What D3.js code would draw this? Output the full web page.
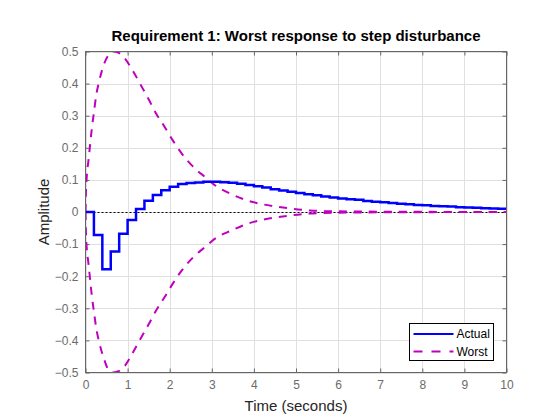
<!DOCTYPE html>
<html>
<head>
<meta charset="utf-8">
<script src="https://cdn.jsdelivr.net/npm/d3@7"></script>
<style>
  body { margin: 0; background: #fff; }
  svg { display: block; font-family: "Liberation Sans", Arial, sans-serif; }
</style>
</head>
<body>
<svg id="viz" width="560" height="420"></svg>
<script>
// step disturbance plot, MATLAB look

// Actual response: discrete stairs, Ts = 0.2 s
const actualTs = 0.2;
const actualValues = [
  0, -0.072, -0.178, -0.123, -0.068, -0.025, 0.009, 0.035, 0.053, 0.068,
  0.079, 0.087, 0.090, 0.092, 0.094, 0.094, 0.093, 0.091, 0.088, 0.084,
  0.080, 0.076, 0.071, 0.067, 0.063, 0.059, 0.055, 0.052, 0.048, 0.045,
  0.042, 0.040, 0.038, 0.034, 0.032, 0.030, 0.028, 0.026, 0.024, 0.022,
  0.021, 0.019, 0.018, 0.017, 0.015, 0.014, 0.013, 0.012, 0.011, 0.010,
  0.010
];

// Worst-case envelope (upper / lower)
const worstT = [0, 0.01, 0.03, 0.07, 0.11, 0.15, 0.2, 0.25, 0.33, 0.43, 0.57, 0.66, 0.8, 0.93,
  1.12, 1.32, 1.5, 1.68, 1.88, 2.07, 2.27, 2.55, 2.83, 3.1, 3.46, 3.82, 4.17, 4.53, 4.92,
  5.32, 5.67, 6, 7, 8, 10];
const worstUpper = [0, 0.06, 0.11, 0.16, 0.21, 0.26, 0.31, 0.36, 0.41, 0.457, 0.493, 0.5, 0.495, 0.479,
  0.441, 0.394, 0.351, 0.306, 0.265, 0.224, 0.185, 0.142, 0.11, 0.081, 0.056, 0.037, 0.025, 0.017, 0.010,
  0.005, 0.003, 0.002, 0.001, 0.0005, 0.0001];
const worstLower = [0, -0.061, -0.113, -0.16, -0.211, -0.261, -0.31, -0.358, -0.408, -0.454, -0.496, -0.5, -0.495, -0.48,
  -0.439, -0.392, -0.35, -0.306, -0.265, -0.224, -0.185, -0.142, -0.11, -0.081, -0.058, -0.038, -0.025, -0.017, -0.010,
  -0.005, -0.003, -0.002, -0.001, -0.0005, -0.0001];

const xTicks = [0, 1, 2, 3, 4, 5, 6, 7, 8, 9, 10];
const yTicks = [-0.5, -0.4, -0.3, -0.2, -0.1, 0, 0.1, 0.2, 0.3, 0.4, 0.5];
const seriesNames = ["Actual", "Worst"];

const svg = d3.select("#viz");
const box = { left: 85.5, right: 506.5, top: 51.5, bottom: 372.5 };
const axisColor = "#666";
const gridColor = "#e0e0e0";
const blue = "#0000ff";
const magenta = "#bf00bf";

const x = d3.scaleLinear().domain([0, 10]).range([box.left, box.right]);
const y = d3.scaleLinear().domain([-0.5, 0.5]).range([box.bottom, box.top]);

svg.append("defs").append("clipPath").attr("id", "clip")
  .append("rect")
  .attr("x", box.left).attr("y", box.top)
  .attr("width", box.right - box.left).attr("height", box.bottom - box.top);

// grid
const grid = svg.append("g");
grid.selectAll("line.gx").data(xTicks).join("line")
  .attr("x1", d => Math.round(x(d)) + 0.5).attr("x2", d => Math.round(x(d)) + 0.5)
  .attr("y1", box.top).attr("y2", box.bottom)
  .attr("stroke", gridColor).attr("stroke-width", 1);
grid.selectAll("line.gy").data(yTicks).join("line")
  .attr("y1", d => Math.round(y(d)) + 0.5).attr("y2", d => Math.round(y(d)) + 0.5)
  .attr("x1", box.left).attr("x2", box.right)
  .attr("stroke", gridColor).attr("stroke-width", 1);

// axes (ticks inside, on all four sides)
const tk = 4;
const bottomAxis = d3.axisBottom(x).tickValues(xTicks).tickSize(-tk).tickPadding(8).tickFormat(d3.format("d"));
const topAxis = d3.axisTop(x).tickValues(xTicks).tickSize(-tk).tickFormat("");
const leftAxis = d3.axisLeft(y).tickValues(yTicks).tickSize(-tk).tickPadding(7).tickFormat(d => d === 0 ? "0" : d3.format(".1f")(d));
const rightAxis = d3.axisRight(y).tickValues(yTicks).tickSize(-tk).tickFormat("");

function styleAxis(g) {
  g.select(".domain").remove();
  g.selectAll(".tick line").attr("stroke", axisColor);
  g.selectAll(".tick text").attr("fill", "#6b6b6b").attr("font-size", 12)
    .attr("font-family", "Liberation Sans, Arial, sans-serif");
}
svg.append("g").attr("transform", `translate(0,${box.bottom})`).call(bottomAxis).call(styleAxis);
svg.append("g").attr("transform", `translate(0,${box.top})`).call(topAxis).call(styleAxis);
svg.append("g").attr("transform", `translate(${box.left},0)`).call(leftAxis).call(styleAxis);
svg.append("g").attr("transform", `translate(${box.right},0)`).call(rightAxis).call(styleAxis);

// plot area
const plot = svg.append("g").attr("clip-path", "url(#clip)");

// zero line
plot.append("line")
  .attr("x1", x(0)).attr("x2", x(10))
  .attr("y1", Math.round(y(0)) + 0.5).attr("y2", Math.round(y(0)) + 0.5)
  .attr("stroke", "#000").attr("stroke-width", 1).attr("stroke-dasharray", "2,2");

const line = d3.line().x(d => x(d[0])).y(d => y(d[1]));

// worst envelope
[worstUpper, worstLower].forEach(vals => {
  plot.append("path")
    .datum(worstT.map((t, i) => [t, vals[i]]))
    .attr("d", line.curve(d3.curveMonotoneX))
    .attr("fill", "none").attr("stroke", magenta).attr("stroke-width", 2)
    .attr("stroke-dasharray", "8,7");
});

// actual stairs
const actualPts = actualValues.map((v, i) => [i * actualTs, v]);
plot.append("path")
  .datum(actualPts)
  .attr("d", d3.line().x(d => x(d[0])).y(d => y(d[1])).curve(d3.curveStepAfter))
  .attr("fill", "none").attr("stroke", blue).attr("stroke-width", 2.5);

// box
svg.append("rect")
  .attr("x", box.left).attr("y", box.top)
  .attr("width", box.right - box.left).attr("height", box.bottom - box.top)
  .attr("fill", "none").attr("stroke", axisColor).attr("stroke-width", 1);

// labels
svg.append("text").attr("x", (box.left + box.right) / 2).attr("y", 41)
  .attr("text-anchor", "middle").attr("font-size", 15).attr("font-weight", "bold")
  .attr("fill", "#000").text("Requirement 1: Worst response to step disturbance");
svg.append("text").attr("x", (box.left + box.right) / 2).attr("y", 411)
  .attr("text-anchor", "middle").attr("font-size", 15).attr("fill", "#262626")
  .text("Time (seconds)");
svg.append("text").attr("transform", `translate(49,${(box.top + box.bottom) / 2}) rotate(-90)`)
  .attr("text-anchor", "middle").attr("font-size", 15).attr("fill", "#262626")
  .text("Amplitude");

// legend
const lg = svg.append("g").attr("transform", "translate(409.5,323.5)");
lg.append("rect").attr("width", 84).attr("height", 37)
  .attr("fill", "#fff").attr("stroke", "#000").attr("stroke-width", 1);
const legendStyles = [
  { color: blue, dash: null },
  { color: magenta, dash: "9,9" }
];
seriesNames.forEach((name, i) => {
  const yy = 10.5 + i * 17.5;
  lg.append("line").attr("x1", 4).attr("x2", 44).attr("y1", yy).attr("y2", yy)
    .attr("stroke", legendStyles[i].color).attr("stroke-width", 2)
    .attr("stroke-dasharray", legendStyles[i].dash);
  lg.append("text").attr("x", 47).attr("y", yy + 4).attr("font-size", 12)
    .attr("fill", "#000").text(name);
});
</script>
</body>
</html>
